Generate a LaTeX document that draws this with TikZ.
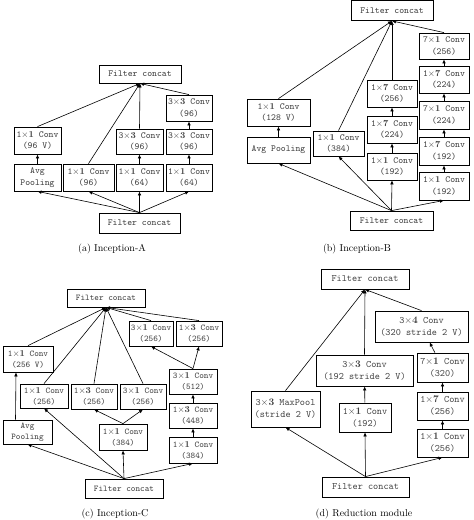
\documentclass[tikz,border=0pt]{standalone}
\usetikzlibrary{arrows.meta}
\newcommand{\kxk}[2]{#1$\times\mathbf{#2}$}
\tikzset{
  blk/.style={draw, line width=0.8pt, align=center, inner sep=0pt, text=black!75,
    font=\fontsize{9.3}{11.5}\selectfont\ttfamily},
  sz/.style 2 args={minimum width=#1pt, minimum height=#2pt},
  lnk/.style={line width=0.6pt, -{Latex[length=4pt,width=3.6pt]}},
  subcap/.style={font=\normalsize}
}
\begin{document}
\begin{tikzpicture}[x=1pt,y=-1pt]
\useasboundingbox (0,0) rectangle (474,520);
% (a) Inception-A
\node[blk,sz={82}{18}] (aTop) at (140,74) {Filter concat};
\node[blk,sz={46}{26}] (aC33b) at (189,108) {\kxk{3}{3} Conv\\(96)};
\node[blk,sz={47}{27}] (aV) at (37.5,140.5) {\kxk{1}{1} Conv\\(96 V)};
\node[blk,sz={47}{25}] (aC33m) at (139.5,141.5) {\kxk{3}{3} Conv\\(96)};
\node[blk,sz={46}{25}] (aC33a) at (189,141.5) {\kxk{3}{3} Conv\\(96)};
\node[blk,sz={47}{27}] (aPool) at (37.5,177.5) {Avg\\Pooling};
\node[blk,sz={51}{27}] (aC11a) at (88.5,177.5) {\kxk{1}{1} Conv\\(96)};
\node[blk,sz={47}{27}] (aC11b) at (139.5,177.5) {\kxk{1}{1} Conv\\(64)};
\node[blk,sz={46}{27}] (aC11c) at (189,177.5) {\kxk{1}{1} Conv\\(64)};
\node[blk,sz={81}{20}] (aBot) at (139.5,223) {Filter concat};
\node[subcap] (aCap) at (112,249) {(a) Inception-A};
\foreach \n in {aPool,aC11a,aC11b,aC11c} \draw[lnk] (aBot.north) -- (\n.south);
\draw[lnk] (aPool) -- (aV);
\draw[lnk] (aC11b) -- (aC33m);
\draw[lnk] (aC11c) -- (aC33a);
\draw[lnk] (aC33a) -- (aC33b);
\foreach \n in {aV,aC11a,aC33m,aC33b} \draw[lnk] (\n.north) -- (aTop.south);
% (b) Inception-B
\node[blk,sz={82}{20}] (bTop) at (392,10.5) {Filter concat};
\node[blk,sz={50}{26}] (bR5) at (444,46) {\kxk{7}{1} Conv\\(256)};
\node[blk,sz={50}{27}] (bR4) at (444,79.5) {\kxk{1}{7} Conv\\(224)};
\node[blk,sz={50}{28}] (bR3) at (444,115) {\kxk{7}{1} Conv\\(224)};
\node[blk,sz={50}{28}] (bR2) at (444,151) {\kxk{1}{7} Conv\\(192)};
\node[blk,sz={50}{28}] (bR1) at (444,186) {\kxk{1}{1} Conv\\(192)};
\node[blk,sz={50}{27}] (bM3) at (392,93.5) {\kxk{1}{7} Conv\\(256)};
\node[blk,sz={50}{27}] (bM2) at (392,129.5) {\kxk{1}{7} Conv\\(224)};
\node[blk,sz={50}{27}] (bM1) at (392,166.5) {\kxk{1}{1} Conv\\(192)};
\node[blk,sz={51}{25}] (bC) at (338.5,143.5) {\kxk{1}{1} Conv\\(384)};
\node[blk,sz={63}{27}] (bV) at (278.5,112.5) {\kxk{1}{1} Conv\\(128 V)};
\node[blk,sz={63}{26}] (bPool) at (278.5,150) {Avg Pooling};
\node[blk,sz={83}{19}] (bBot) at (391.5,220.5) {Filter concat};
\node[subcap] (bCap) at (357,249) {(b) Inception-B};
\foreach \n in {bPool,bC,bM1,bR1} \draw[lnk] (bBot.north) -- (\n.south);
\draw[lnk] (bPool) -- (bV);
\draw[lnk] (bM1) -- (bM2);
\draw[lnk] (bM2) -- (bM3);
\draw[lnk] (bR1) -- (bR2);
\draw[lnk] (bR2) -- (bR3);
\draw[lnk] (bR3) -- (bR4);
\draw[lnk] (bR4) -- (bR5);
\foreach \n in {bV,bC,bM3,bR5} \draw[lnk] (\n.north) -- (bTop.south);
% (c) Inception-C
\begin{scope}[blk/.append style={font=\fontsize{8.8}{11}\selectfont\ttfamily}]
\node[blk,sz={78}{18}] (cTop) at (106,298) {Filter concat};
\node[blk,sz={44}{25}] (cT1) at (151,333.5) {\kxk{3}{1} Conv\\(256)};
\node[blk,sz={46}{25}] (cT2) at (199,333.5) {\kxk{1}{3} Conv\\(256)};
\node[blk,sz={50}{26}] (cV) at (28,359) {\kxk{1}{1} Conv\\(256 V)};
\node[blk,sz={48}{25}] (cR3) at (193,381.5) {\kxk{3}{1} Conv\\(512)};
\node[blk,sz={48}{24}] (cA) at (44,396) {\kxk{1}{1} Conv\\(256)};
\node[blk,sz={46}{25}] (cB) at (94,396.5) {\kxk{1}{3} Conv\\(256)};
\node[blk,sz={46}{25}] (cD) at (143,396.5) {\kxk{3}{1} Conv\\(256)};
\node[blk,sz={48}{25}] (cR2) at (193,415.5) {\kxk{1}{3} Conv\\(448)};
\node[blk,sz={49}{24}] (cPool) at (27.5,432) {Avg\\Pooling};
\node[blk,sz={48}{26}] (cM) at (123,437) {\kxk{1}{1} Conv\\(384)};
\node[blk,sz={48}{26}] (cR1) at (193,450) {\kxk{1}{1} Conv\\(384)};
\node[blk,sz={78}{19}] (cBot) at (124,488.5) {Filter concat};
\end{scope}
\node[subcap] (cCap) at (115,514) {(c) Inception-C};
\foreach \n in {cPool,cA,cM,cR1} \draw[lnk] (cBot.north) -- (\n.south);
\draw[lnk] ([xshift=-12pt]cPool.north) -- ([xshift=-12pt]cV.south);
\foreach \n in {cB,cD} \draw[lnk] (cM.north) -- (\n.south);
\draw[lnk] (cR1) -- (cR2);
\draw[lnk] (cR2) -- (cR3);
\foreach \n in {cT1,cT2} \draw[lnk] (cR3.north) -- (\n.south);
\foreach \n in {cV,cA,cB,cD,cT1,cT2} \draw[lnk] (\n.north) -- (cTop.south);
% (d) Reduction module
\begin{scope}[blk/.append style={font=\fontsize{9.8}{12}\selectfont\ttfamily}]
\node[blk,sz={88}{20}] (dTop) at (365,279) {Filter concat};
\node[blk,sz={93}{31}] (dR4) at (421.5,326.5) {\kxk{3}{4} Conv\\(320 stride 2 V)};
\node[blk,sz={97}{31}] (dM2) at (364.5,370.5) {\kxk{3}{3} Conv\\(192 stride 2 V)};
\node[blk,sz={51}{29}] (dR3) at (442.5,367.5) {\kxk{7}{1} Conv\\(320)};
\node[blk,sz={51}{28}] (dR2) at (442.5,406) {\kxk{1}{7} Conv\\(256)};
\node[blk,sz={69}{36}] (dPool) at (285.5,409) {\kxk{3}{3} MaxPool\\(stride 2 V)};
\node[blk,sz={52}{29}] (dM1) at (365,417.5) {\kxk{1}{1} Conv\\(192)};
\node[blk,sz={51}{28}] (dR1) at (442.5,443) {\kxk{1}{1} Conv\\(256)};
\node[blk,sz={87}{20}] (dBot) at (365.5,487) {Filter concat};
\end{scope}
\node[subcap] (dCap) at (364,514) {(d) Reduction module};
\foreach \n in {dPool,dM1,dR1} \draw[lnk] (dBot.north) -- (\n.south);
\draw[lnk] (dM1) -- (dM2);
\draw[lnk] (dR1) -- (dR2);
\draw[lnk] (dR2) -- (dR3);
\draw[lnk] (dR3) -- (dR4);
\foreach \n in {dPool,dM2,dR4} \draw[lnk] (\n.north) -- (dTop.south);
\end{tikzpicture}
\end{document}
